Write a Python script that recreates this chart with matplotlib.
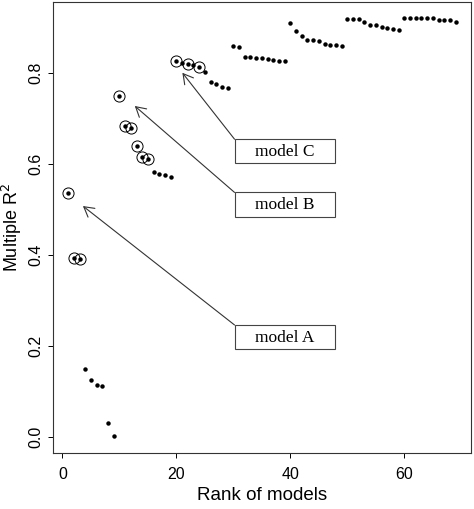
import numpy as np
import matplotlib
matplotlib.use('Agg')
import matplotlib.pyplot as plt
from matplotlib.patches import Rectangle

plt.rcParams['font.family'] = ['Liberation Sans', 'DejaVu Sans']

# multiple R^2 of each model, in rank order (1..69)
r2 = [0.535, 0.392, 0.390, 0.149, 0.125, 0.114, 0.112, 0.029, 0.002,
      0.750, 0.684, 0.679, 0.639, 0.614, 0.611, 0.582, 0.577, 0.575, 0.571,
      0.826, 0.822, 0.819, 0.817, 0.813, 0.802, 0.780, 0.775, 0.769, 0.766,
      0.859, 0.857, 0.835, 0.834, 0.833, 0.832, 0.830, 0.829, 0.827, 0.827,
      0.910, 0.891, 0.881, 0.873, 0.872, 0.870, 0.864, 0.862, 0.861, 0.859,
      0.918, 0.918, 0.918, 0.911, 0.906, 0.906, 0.900, 0.899, 0.897, 0.894,
      0.920, 0.920, 0.920, 0.920, 0.920, 0.920, 0.917, 0.916, 0.915, 0.912]
rank = np.arange(1, len(r2) + 1)

# ranks marked with an open circle
circled = [1, 2, 3, 10, 11, 12, 13, 14, 15, 20, 22, 24]

labels = ['model A', 'model B', 'model C']
# arrow tip (x, y) and label box (left, bottom, width, height) in data units
tips = [(3.6, 0.507), (12.7, 0.727), (21.05, 0.800)]
boxes = [(30.2, 0.193, 17.7, 0.0525),
         (30.2, 0.4835, 17.7, 0.0535),
         (30.2, 0.601, 17.7, 0.053)]

fig = plt.figure(figsize=(4.74, 5.09), dpi=100)
ax = fig.add_axes([0.111, 0.1094, 0.883, 0.8876])

ax.plot(rank, r2, 'o', color='black', markersize=3.2, markeredgewidth=0)
idx = np.array(circled) - 1
ax.plot(rank[idx], np.array(r2)[idx], 'o', markerfacecolor='none',
        markeredgecolor='black', markersize=8, markeredgewidth=0.7)

for lab, tip, (bx, by, bw, bh) in zip(labels, tips, boxes):
    ax.add_patch(Rectangle((bx, by), bw, bh, fill=False, edgecolor='#444444', linewidth=0.8))
    ax.text(bx + bw / 2, by + bh / 2 - 0.002, lab, ha='center', va='center',
            family=['Liberation Serif', 'DejaVu Serif'], fontsize=12.5)
    ax.annotate('', xy=tip, xytext=(bx, by + bh),
                arrowprops=dict(arrowstyle='->,head_length=0.7,head_width=0.4',
                                color='#333333', linewidth=0.8, shrinkA=0, shrinkB=0))

ax.set_xlim(-1.72, 71.72)
ax.set_ylim(-0.0367, 0.9567)
ax.set_xticks([0, 20, 40, 60])
ax.set_yticks([0.0, 0.2, 0.4, 0.6, 0.8])
ax.set_yticklabels(['0.0', '0.2', '0.4', '0.6', '0.8'], rotation=90, va='center')
ax.tick_params(direction='out', length=3.5, width=0.7, labelsize=11.5)
ax.tick_params(axis='x', pad=6)
ax.tick_params(axis='y', pad=3)
for s in ax.spines.values():
    s.set_linewidth(0.8)
    s.set_color('#333333')

ax.set_xlabel('Rank of models', fontsize=13.5, labelpad=4)
ax.set_ylabel('Multiple R$^2$', fontsize=13, labelpad=3)

plt.savefig('out.png', dpi=100)
